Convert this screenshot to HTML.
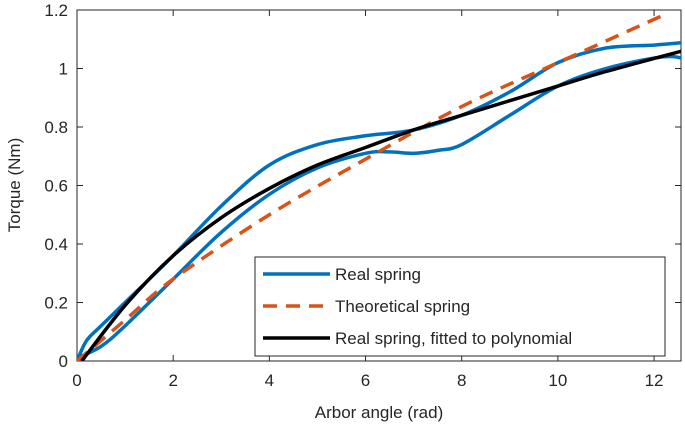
<!DOCTYPE html>
<html><head><meta charset="utf-8"><style>
body{margin:0;background:#fff;font-family:"Liberation Sans",sans-serif}
svg text{font-family:"Liberation Sans",sans-serif;fill:#262626}
</style></head><body>
<svg width="685" height="436" xmlns="http://www.w3.org/2000/svg">
<defs><clipPath id="cp"><rect x="77" y="10" width="604" height="351"/></clipPath></defs>
<g id="g"></g>
</svg>
<script>
const xTicks=[0,2,4,6,8,10,12];
const yTicks=[0,0.2,0.4,0.6,0.8,1,1.2];
const yTickLabels=["0","0.2","0.4","0.6","0.8","1","1.2"];
const realUpX=[0,0.2,0.5,1,2,3,4,5,6,7,8,9,10,11,12,12.7];
const realUpY=[0,0.07,0.12,0.2,0.36,0.53,0.67,0.74,0.77,0.79,0.84,0.92,1.02,1.07,1.08,1.09];
const realDnX=[12.7,12.2,11,10,9,8,7.5,7,6.5,6,5,4,3,2,1,0.5,0];
const realDnY=[1.03,1.04,1.0,0.94,0.84,0.74,0.72,0.71,0.715,0.71,0.66,0.57,0.44,0.28,0.12,0.05,0.01];
const theoX=[0,1,2,4,6,8,10,12.3];
const theoY=[0,0.14,0.28,0.5,0.69,0.87,1.02,1.19];
const fitX=[0.1,1,2,3,4,5,6,7,8,9,10,11,12.7];
const fitY=[0,0.19,0.36,0.49,0.59,0.67,0.73,0.79,0.84,0.89,0.94,0.99,1.065];
const X0=77,X1=681,Y0=361,Y1=10,XMAX=12.56,YMAX=1.2;
const sx=v=>X0+(X1-X0)*v/XMAX, sy=v=>Y0-(Y0-Y1)*v/YMAX;
const g=document.getElementById('g');const NS="http://www.w3.org/2000/svg";
function mk(t,a,txt,p){const e=document.createElementNS(NS,t);for(const k in a)e.setAttribute(k,a[k]);if(txt!==undefined)e.textContent=txt;(p||g).appendChild(e);return e;}
function smooth(xs,ys){let p=xs.map((x,i)=>[sx(x),sy(ys[i])]);let d="M"+p[0].join(",");for(let i=0;i<p.length-1;i++){const a=p[i-1]||p[i],b=p[i],c=p[i+1],e=p[i+2]||c;d+=` C${b[0]+(c[0]-a[0])/6},${b[1]+(c[1]-a[1])/6} ${c[0]-(e[0]-b[0])/6},${c[1]-(e[1]-b[1])/6} ${c[0]},${c[1]}`;}return d;}
let e=mk('rect',{x:X0,y:Y1,width:X1-X0,height:Y0-Y1,fill:'#fff',stroke:'#262626','stroke-width':1});

xTicks.forEach(t=>{mk('line',{x1:sx(t),x2:sx(t),y1:Y0,y2:Y0-6,stroke:'#262626'});mk('line',{x1:sx(t),x2:sx(t),y1:Y1,y2:Y1+6,stroke:'#262626'});
 const l=mk('text',{x:sx(t),y:Y0+25,'font-size':17,'text-anchor':'middle'},String(t));});
yTicks.forEach((t,i)=>{mk('line',{x1:X0,x2:X0+6,y1:sy(t),y2:sy(t),stroke:'#262626'});mk('line',{x1:X1,x2:X1-6,y1:sy(t),y2:sy(t),stroke:'#262626'});
 const l=mk('text',{x:X0-9,y:sy(t)+6,'font-size':17,'text-anchor':'end'},yTickLabels[i]);});
const cg=mk('g',{'clip-path':'url(#cp)'});
e=mk('path',{d:smooth(realUpX,realUpY),fill:'none',stroke:'#0072BD','stroke-width':3.5},undefined,cg);
e=mk('path',{d:smooth(realDnX,realDnY),fill:'none',stroke:'#0072BD','stroke-width':3.5},undefined,cg);
e=mk('path',{d:smooth(theoX,theoY),fill:'none',stroke:'#D95319','stroke-width':3.5,'stroke-dasharray':'14,9'},undefined,cg);
e=mk('path',{d:smooth(fitX,fitY),fill:'none',stroke:'#000','stroke-width':3.5},undefined,cg);
e=mk('rect',{x:255,y:257,width:410,height:99,fill:'#fff',stroke:'#262626'});
const leg=[["Real spring","#0072BD",""],["Theoretical spring","#D95319","14,9"],["Real spring, fitted to polynomial","#000",""]];
leg.forEach((L,i)=>{const y=274+i*32;mk('line',{x1:263,x2:330,y1:y,y2:y,stroke:L[1],'stroke-width':3.5,'stroke-dasharray':L[2]});
 const t=mk('text',{x:335,y:y+6,'font-size':17},L[0]);});
e=mk('text',{x:379,y:418,'font-size':17,'text-anchor':'middle'},'Arbor angle (rad)');
e=mk('text',{x:0,y:0,'font-size':17,'text-anchor':'middle',transform:'translate(20,185) rotate(-90)'},'Torque (Nm)');
</script>
</body></html>
